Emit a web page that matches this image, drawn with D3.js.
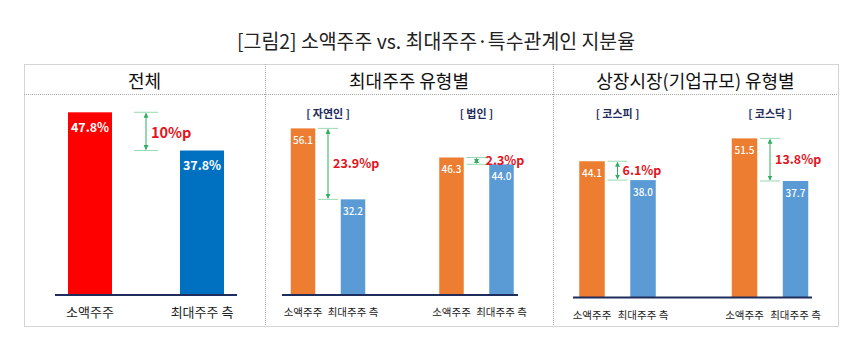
<!DOCTYPE html>
<html>
<head>
<meta charset="utf-8">
<script src="https://cdn.jsdelivr.net/npm/d3@7"></script>
<style>
  body { margin: 0; background: #fff; }
  text { font-family: "Noto Sans CJK KR", "Noto Sans", sans-serif; }
</style>
</head>
<body>
<div id="chart"></div>
<script>
// chart data
const chartTitle = "[그림2] 소액주주 vs. 최대주주·특수관계인 지분율";
const panelTitles = ["전체", "최대주주 유형별", "상장시장(기업규모) 유형별"];
const groupNames = [[""], ["[ 자연인 ]", "[ 법인 ]"], ["[ 코스피 ]", "[ 코스닥 ]"]];
const seriesNames = ["소액주주", "최대주주 측"];
const minorityShare = [[47.8], [56.1, 46.3], [44.1, 51.5]];
const largestShare = [[37.8], [32.2, 44.0], [38.0, 37.7]];
const gapLabels = [["10%p"], ["23.9%p", "2.3%p"], ["6.1%p", "13.8%p"]];

// layout of each panel (pixels)
const panels = [
  { x0: 24, x1: 265, axis: [55, 237], baseY: 295, pxPerUnit: 3.822, groups: [146, 146],
    half: 56, barW: 44, colors: ["#ff0000", "#0070c0"], big: true, catGap: 16 },
  { x0: 265, x1: 553, axis: [282, 518], baseY: 295, pxPerUnit: 2.97, groups: [328, 476.5],
    half: 25, barW: 24.5, colors: ["#ed7d31", "#5b9bd5"], big: false, catGap: 16 },
  { x0: 553, x1: 838, axis: [573, 812], baseY: 297.5, pxPerUnit: 3.09, groups: [617.5, 770],
    half: 25.5, barW: 25.5, colors: ["#ed7d31", "#5b9bd5"], big: false, catGap: 17 }
];

const width = 860, height = 351;
const tableTop = 64, headerBottom = 94, tableBottom = 326;
const green = "#2eaf62", red = "#e3141c", navy = "#1f2d5c";

const svg = d3.select("#chart").append("svg")
  .attr("width", width).attr("height", height);

svg.append("defs").selectAll("marker")
  .data(["up", "down"])
  .join("marker")
  .attr("id", d => "arrow-" + d)
  .attr("viewBox", "0 0 10 10")
  .attr("refX", 9).attr("refY", 5)
  .attr("markerWidth", 5).attr("markerHeight", 5)
  .attr("orient", "auto-start-reverse")
  .append("path")
  .attr("d", "M0,0 L10,5 L0,10 z")
  .attr("fill", green);

// title
svg.append("text")
  .attr("x", 436).attr("y", 40)
  .attr("text-anchor", "middle").attr("dominant-baseline", "central")
  .attr("font-size", 20).attr("fill", "#222")
  .attr("textLength", 398).attr("lengthAdjust", "spacingAndGlyphs")
  .text(chartTitle);

// table grid (dotted)
const grid = svg.append("g")
  .attr("stroke", "#a8a8a8").attr("stroke-width", 1)
  .attr("stroke-dasharray", "1,1").attr("fill", "none");
grid.append("rect")
  .attr("x", 24.5).attr("y", tableTop + 0.5)
  .attr("width", 838 - 24).attr("height", tableBottom - tableTop);
grid.append("line")
  .attr("x1", 24).attr("x2", 838)
  .attr("y1", headerBottom + 0.5).attr("y2", headerBottom + 0.5);
grid.selectAll("line.div")
  .data([265, 553])
  .join("line").attr("class", "div")
  .attr("x1", d => d + 0.5).attr("x2", d => d + 0.5)
  .attr("y1", tableTop).attr("y2", tableBottom);

panels.forEach((p, pi) => {
  const g = svg.append("g");

  // header
  g.append("text")
    .attr("x", (p.x0 + p.x1) / 2).attr("y", 80)
    .attr("text-anchor", "middle").attr("dominant-baseline", "central")
    .attr("font-size", 18).attr("fill", "#111")
    .text(panelTitles[pi]);

  const groups = groupNames[pi].map((name, i) => ({
    name, i,
    values: [minorityShare[pi][i], largestShare[pi][i]],
    gap: gapLabels[pi][i]
  }));

  const y = d3.scaleLinear().domain([0, 60])
    .range([p.baseY, p.baseY - 60 * p.pxPerUnit]);
  const gx = d3.scalePoint().domain(groups.map(d => d.i)).range(p.groups);
  const sx = d3.scalePoint().domain(seriesNames).range([-p.half, p.half]);

  const bars = groups.flatMap(gr => gr.values.map((v, si) => ({
    gr, v, series: seriesNames[si], si,
    cx: gx(gr.i) + sx(seriesNames[si])
  })));

  // bars
  g.selectAll("rect.bar")
    .data(bars)
    .join("rect").attr("class", "bar")
    .attr("x", d => d.cx - p.barW / 2)
    .attr("width", p.barW)
    .attr("y", d => y(d.v))
    .attr("height", d => y(0) - y(d.v))
    .attr("fill", d => p.colors[d.si]);

  // value labels inside bars
  g.selectAll("text.val")
    .data(bars)
    .join("text").attr("class", "val")
    .attr("x", d => d.cx)
    .attr("y", d => y(d.v) + (p.big ? 14 : 11))
    .attr("text-anchor", "middle").attr("dominant-baseline", "central")
    .attr("font-size", p.big ? 12.5 : 10)
    .attr("font-weight", p.big ? 700 : 500)
    .attr("fill", "#fff")
    .text(d => p.big ? d.v.toFixed(1) + "%" : d.v.toFixed(1));

  // category labels
  g.selectAll("text.cat")
    .data(bars)
    .join("text").attr("class", "cat")
    .attr("x", d => d.cx)
    .attr("y", p.baseY + p.catGap)
    .attr("text-anchor", "middle").attr("dominant-baseline", "central")
    .attr("font-size", p.big ? 13 : 10.5)
    .attr("fill", "#222")
    .text(d => d.series);

  // baseline
  g.append("line")
    .attr("x1", p.axis[0]).attr("x2", p.axis[1])
    .attr("y1", y(0)).attr("y2", y(0))
    .attr("stroke", navy).attr("stroke-width", 2);

  // group subtitles
  g.selectAll("text.sub")
    .data(groups.filter(d => d.name))
    .join("text").attr("class", "sub")
    .attr("x", d => gx(d.i))
    .attr("y", 112.5)
    .attr("text-anchor", "middle").attr("dominant-baseline", "central")
    .attr("font-size", 11).attr("font-weight", 700)
    .attr("fill", navy)
    .text(d => d.name);

  // gap arrows
  const tick = p.big ? 12 : 10;
  const ar = g.selectAll("g.gap")
    .data(groups)
    .join("g").attr("class", "gap");
  ar.selectAll("line.tick")
    .data(d => d.values.map(v => ({ v, x: gx(d.i) })))
    .join("line").attr("class", "tick")
    .attr("x1", d => d.x - tick).attr("x2", d => d.x + tick)
    .attr("y1", d => y(d.v)).attr("y2", d => y(d.v))
    .attr("stroke", "#7fcf9c").attr("stroke-width", 0.8);
  ar.append("line")
    .attr("x1", d => gx(d.i)).attr("x2", d => gx(d.i))
    .attr("y1", d => y(d3.max(d.values)) + 1)
    .attr("y2", d => y(d3.min(d.values)) - 1)
    .attr("stroke", green).attr("stroke-width", 1)
    .attr("marker-start", "url(#arrow-up)")
    .attr("marker-end", "url(#arrow-down)");
  ar.append("text")
    .attr("x", d => gx(d.i) + (Math.abs(d.values[0] - d.values[1]) < 4 ? tick - 1 : 5))
    .attr("y", d => (y(d.values[0]) + y(d.values[1])) / 2 - (p.big ? 0 : 1))
    .attr("dominant-baseline", "central")
    .attr("font-size", p.big ? 14.5 : 12.5).attr("font-weight", 700)
    .attr("fill", red)
    .text(d => d.gap);
});
</script>
</body>
</html>
